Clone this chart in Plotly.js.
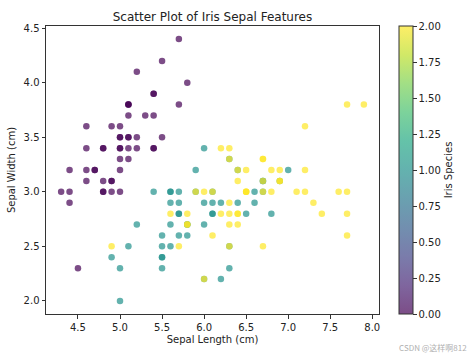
<!DOCTYPE html>
<html>
<head>
<meta charset="utf-8">
<script src="https://cdn.plot.ly/plotly-3.0.1.min.js"></script>
<style>html,body{margin:0;padding:0;background:#fff;}#chart{width:474px;height:355px;}</style>
</head>
<body>
<div id="chart"></div>
<script>
const sepalLength = [
5.1,4.9,4.7,4.6,5.0,5.4,4.6,5.0,4.4,4.9,5.4,4.8,4.8,4.3,5.8,5.7,5.4,5.1,5.7,5.1,5.4,5.1,4.6,5.1,4.8,5.0,5.0,5.2,5.2,4.7,4.8,5.4,5.2,5.5,4.9,5.0,5.5,4.9,4.4,5.1,5.0,4.5,4.4,5.0,5.1,4.8,5.1,4.6,5.3,5.0,
7.0,6.4,6.9,5.5,6.5,5.7,6.3,4.9,6.6,5.2,5.0,5.9,6.0,6.1,5.6,6.7,5.6,5.8,6.2,5.6,5.9,6.1,6.3,6.1,6.4,6.6,6.8,6.7,6.0,5.7,5.5,5.5,5.8,6.0,5.4,6.0,6.7,6.3,5.6,5.5,5.5,6.1,5.8,5.0,5.6,5.7,5.7,6.2,5.1,5.7,
6.3,5.8,7.1,6.3,6.5,7.6,4.9,7.3,6.7,7.2,6.5,6.4,6.8,5.7,5.8,6.4,6.5,7.7,7.7,6.0,6.9,5.6,7.7,6.3,6.7,7.2,6.2,6.1,6.4,7.2,7.4,7.9,6.4,6.3,6.1,7.7,6.3,6.4,6.0,6.9,6.7,6.9,5.8,6.8,6.7,6.7,6.3,6.5,6.2,5.9];
const sepalWidth = [
3.5,3.0,3.2,3.1,3.6,3.9,3.4,3.4,2.9,3.1,3.7,3.4,3.0,3.0,4.0,4.4,3.9,3.5,3.8,3.8,3.4,3.7,3.6,3.3,3.4,3.0,3.4,3.5,3.4,3.2,3.1,3.4,4.1,4.2,3.1,3.2,3.5,3.6,3.0,3.4,3.5,2.3,3.2,3.5,3.8,3.0,3.8,3.2,3.7,3.3,
3.2,3.2,3.1,2.3,2.8,2.8,3.3,2.4,2.9,2.7,2.0,3.0,2.2,2.9,2.9,3.1,3.0,2.7,2.2,2.5,3.2,2.8,2.5,2.8,2.9,3.0,2.8,3.0,2.9,2.6,2.4,2.4,2.7,2.7,3.0,3.4,3.1,2.3,3.0,2.5,2.6,3.0,2.6,2.3,2.7,3.0,2.9,2.9,2.5,2.8,
3.3,2.7,3.0,2.9,3.0,3.0,2.5,2.9,2.5,3.6,3.2,2.7,3.0,2.5,2.8,3.2,3.0,3.8,2.6,2.2,3.2,2.8,2.8,2.7,3.3,3.2,2.8,3.0,2.8,3.0,2.8,3.8,2.8,2.8,2.6,3.0,3.4,3.1,3.0,3.1,3.1,3.1,2.7,3.2,3.3,3.0,2.5,3.0,3.4,3.0];
const speciesCounts = [50, 50, 50];
const species = [];
speciesCounts.forEach((n, s) => { for (let i = 0; i < n; i++) species.push(s); });

const xTicks = [4.5,5.0,5.5,6.0,6.5,7.0,7.5,8.0];
const yTicks = [2.0,2.5,3.0,3.5,4.0,4.5];
const cbTicks = [0,0.25,0.5,0.75,1.0,1.25,1.5,1.75,2.0];

const viridis = ['#440154','#482475','#414487','#355f8d','#2a788e','#21918c','#22a884','#44bf70','#7ad151','#bddf26','#fde725'];
function rgba(hex, a){
  const r=parseInt(hex.slice(1,3),16),g=parseInt(hex.slice(3,5),16),b=parseInt(hex.slice(5,7),16);
  return `rgba(${r},${g},${b},${a})`;
}
const colorscale = viridis.map((c,i)=>[i/(viridis.length-1), rgba(c,0.7)]);

const font = {family: 'DejaVu Sans, sans-serif', size: 10, color: '#222'};

const trace = {
  x: sepalLength, y: sepalWidth, mode: 'markers', type: 'scatter',
  marker: {
    size: 6.5, color: species, colorscale: colorscale, cmin: 0, cmax: 2,
    line: {width: 0},
    showscale: true,
    colorbar: {
      x: 1.06, xanchor: 'left', xpad: 0, ypad: 0, y: 0.5, yanchor: 'middle', len: 1, lenmode: 'fraction',
      thickness: 14, outlinewidth: 1, outlinecolor: '#333',
      tickvals: cbTicks, tickformat: '.2f', ticks: 'outside', ticklen: 3.5, tickwidth: 1, tickcolor: '#333',
      tickfont: font,
      title: {text: 'Iris Species', side: 'right', font: font}
    }
  },
  hoverinfo: 'skip'
};

const axisCommon = {
  showline: true, linecolor: '#333', linewidth: 1, mirror: true,
  ticks: 'outside', ticklen: 3.5, tickwidth: 1, tickcolor: '#333',
  showgrid: false, zeroline: false, tickfont: font
};

const layout = {
  width: 474, height: 355,
  margin: {l: 46, r: 95, t: 26, b: 41},
  paper_bgcolor: '#fff', plot_bgcolor: '#fff',
  showlegend: false,
  title: {text: 'Scatter Plot of Iris Sepal Features', font: {family: 'DejaVu Sans, sans-serif', size: 12, color: '#222'},
          x: 0.5, xref: 'paper', xanchor: 'center', y: 1, yref: 'paper', yanchor: 'bottom', pad: {b: 5}},
  xaxis: Object.assign({}, axisCommon, {range: [4.12, 8.08], tickvals: xTicks, tickformat: '.1f',
          title: {text: 'Sepal Length (cm)', font: font, standoff: 4}}),
  yaxis: Object.assign({}, axisCommon, {range: [1.88, 4.52], tickvals: yTicks, tickformat: '.1f',
          title: {text: 'Sepal Width (cm)', font: font, standoff: 6}}),
  annotations: [{
    text: 'CSDN @这样啊812', xref: 'paper', yref: 'paper', x: 1.27, y: -0.115,
    xanchor: 'right', yanchor: 'middle', showarrow: false,
    font: {family: 'Noto Sans CJK SC, sans-serif', size: 8, color: '#b0b0b0'}
  }]
};

Plotly.newPlot('chart', [trace], layout, {staticPlot: true, displayModeBar: false});
</script>
</body>
</html>
